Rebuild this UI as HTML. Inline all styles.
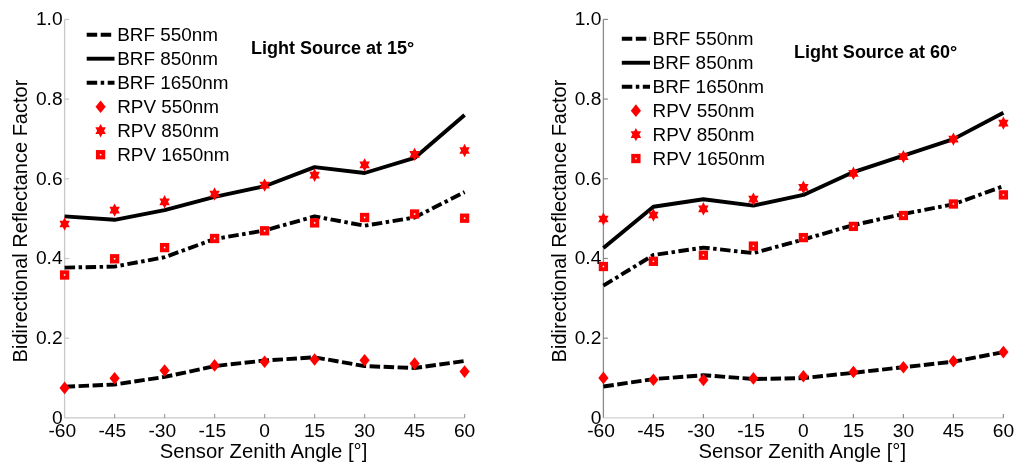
<!DOCTYPE html>
<html><head><meta charset="utf-8"><title>BRF plots</title>
<style>
html,body{margin:0;padding:0;background:#fff;width:1024px;height:475px;overflow:hidden}
svg{display:block}
text{font-family:"Liberation Sans",sans-serif;fill:#000}
.tk{font-size:19.2px}
.lab{font-size:20.3px}
.ylab{font-size:20.05px}
.lg{font-size:18.9px}
.tt{font-size:18px;font-weight:bold}
</style></head><body>
<svg width="1024" height="475" viewBox="0 0 1024 475">
<rect width="1024" height="475" fill="#fff"/>
<line x1="64.6" y1="19.4" x2="64.6" y2="417.9" stroke="#c8c8c8" stroke-width="1.3"/>
<line x1="64.6" y1="417.9" x2="464.6" y2="417.9" stroke="#c8c8c8" stroke-width="1.3"/>
<text x="62.60" y="423.80" text-anchor="end" class="tk">0</text>
<line x1="64.6" y1="338.20" x2="69.1" y2="338.20" stroke="#c8c8c8" stroke-width="1.2"/>
<text x="62.60" y="344.10" text-anchor="end" class="tk">0.2</text>
<line x1="64.6" y1="258.50" x2="69.1" y2="258.50" stroke="#c8c8c8" stroke-width="1.2"/>
<text x="62.60" y="264.40" text-anchor="end" class="tk">0.4</text>
<line x1="64.6" y1="178.80" x2="69.1" y2="178.80" stroke="#c8c8c8" stroke-width="1.2"/>
<text x="62.60" y="184.70" text-anchor="end" class="tk">0.6</text>
<line x1="64.6" y1="99.10" x2="69.1" y2="99.10" stroke="#c8c8c8" stroke-width="1.2"/>
<text x="62.60" y="105.00" text-anchor="end" class="tk">0.8</text>
<line x1="64.6" y1="19.40" x2="69.1" y2="19.40" stroke="#c8c8c8" stroke-width="1.2"/>
<text x="62.60" y="25.30" text-anchor="end" class="tk">1.0</text>
<text x="62.30" y="436.6" text-anchor="middle" class="tk">-60</text>
<line x1="114.60" y1="413.9" x2="114.60" y2="417.9" stroke="#a0a0a0" stroke-width="1.2"/>
<text x="112.30" y="436.6" text-anchor="middle" class="tk">-45</text>
<line x1="164.60" y1="413.9" x2="164.60" y2="417.9" stroke="#a0a0a0" stroke-width="1.2"/>
<text x="162.30" y="436.6" text-anchor="middle" class="tk">-30</text>
<line x1="214.60" y1="413.9" x2="214.60" y2="417.9" stroke="#a0a0a0" stroke-width="1.2"/>
<text x="212.30" y="436.6" text-anchor="middle" class="tk">-15</text>
<line x1="264.60" y1="413.9" x2="264.60" y2="417.9" stroke="#a0a0a0" stroke-width="1.2"/>
<text x="264.60" y="436.6" text-anchor="middle" class="tk">0</text>
<line x1="314.60" y1="413.9" x2="314.60" y2="417.9" stroke="#a0a0a0" stroke-width="1.2"/>
<text x="314.60" y="436.6" text-anchor="middle" class="tk">15</text>
<line x1="364.60" y1="413.9" x2="364.60" y2="417.9" stroke="#a0a0a0" stroke-width="1.2"/>
<text x="364.60" y="436.6" text-anchor="middle" class="tk">30</text>
<line x1="414.60" y1="413.9" x2="414.60" y2="417.9" stroke="#a0a0a0" stroke-width="1.2"/>
<text x="414.60" y="436.6" text-anchor="middle" class="tk">45</text>
<line x1="464.60" y1="413.9" x2="464.60" y2="417.9" stroke="#a0a0a0" stroke-width="1.2"/>
<text x="464.60" y="436.6" text-anchor="middle" class="tk">60</text>
<text x="263.50" y="457.8" text-anchor="middle" class="lab">Sensor Zenith Angle [°]</text>
<text transform="translate(27.20,221.0) rotate(-90)" text-anchor="middle" class="ylab">Bidirectional Reflectance Factor</text>
<polyline points="64.60,386.80 114.60,384.50 164.60,376.90 214.60,366.10 264.60,360.50 314.60,357.30 364.60,366.10 414.60,368.00 464.60,361.00" fill="none" stroke="#000" stroke-width="3.9" stroke-linejoin="round" stroke-dasharray="10.5,3.5"/>
<polyline points="64.60,216.40 114.60,219.80 164.60,210.10 214.60,196.80 264.60,186.20 314.60,167.10 364.60,173.00 414.60,157.90 464.60,115.10" fill="none" stroke="#000" stroke-width="3.9" stroke-linejoin="round"/>
<polyline points="64.60,267.60 114.60,266.60 164.60,257.20 214.60,239.00 264.60,230.50 314.60,216.40 364.60,225.70 414.60,217.50 464.60,192.10" fill="none" stroke="#000" stroke-width="3.9" stroke-linejoin="round" stroke-dasharray="10.5,3.5,3.5,3.5"/>
<path d="M64.60 381.60L69.70 387.90L64.60 394.20L59.50 387.90Z" fill="#ff0000"/>
<path d="M114.60 372.00L119.70 378.30L114.60 384.60L109.50 378.30Z" fill="#ff0000"/>
<path d="M164.60 364.20L169.70 370.50L164.60 376.80L159.50 370.50Z" fill="#ff0000"/>
<path d="M214.60 359.10L219.70 365.40L214.60 371.70L209.50 365.40Z" fill="#ff0000"/>
<path d="M264.60 355.40L269.70 361.70L264.60 368.00L259.50 361.70Z" fill="#ff0000"/>
<path d="M314.60 353.20L319.70 359.50L314.60 365.80L309.50 359.50Z" fill="#ff0000"/>
<path d="M364.60 353.90L369.70 360.20L364.60 366.50L359.50 360.20Z" fill="#ff0000"/>
<path d="M414.60 357.30L419.70 363.60L414.60 369.90L409.50 363.60Z" fill="#ff0000"/>
<path d="M464.60 365.30L469.70 371.60L464.60 377.90L459.50 371.60Z" fill="#ff0000"/>
<polygon points="64.60,217.30 66.34,220.65 69.82,220.65 68.08,224.00 69.82,227.35 66.34,227.35 64.60,230.70 62.86,227.35 59.38,227.35 61.12,224.00 59.38,220.65 62.86,220.65" fill="#ff0000"/>
<polygon points="114.60,203.40 116.34,206.75 119.82,206.75 118.08,210.10 119.82,213.45 116.34,213.45 114.60,216.80 112.86,213.45 109.38,213.45 111.12,210.10 109.38,206.75 112.86,206.75" fill="#ff0000"/>
<polygon points="164.60,195.10 166.34,198.45 169.82,198.45 168.08,201.80 169.82,205.15 166.34,205.15 164.60,208.50 162.86,205.15 159.38,205.15 161.12,201.80 159.38,198.45 162.86,198.45" fill="#ff0000"/>
<polygon points="214.60,187.30 216.34,190.65 219.82,190.65 218.08,194.00 219.82,197.35 216.34,197.35 214.60,200.70 212.86,197.35 209.38,197.35 211.12,194.00 209.38,190.65 212.86,190.65" fill="#ff0000"/>
<polygon points="264.60,178.40 266.34,181.75 269.82,181.75 268.08,185.10 269.82,188.45 266.34,188.45 264.60,191.80 262.86,188.45 259.38,188.45 261.12,185.10 259.38,181.75 262.86,181.75" fill="#ff0000"/>
<polygon points="314.60,168.50 316.34,171.85 319.82,171.85 318.08,175.20 319.82,178.55 316.34,178.55 314.60,181.90 312.86,178.55 309.38,178.55 311.12,175.20 309.38,171.85 312.86,171.85" fill="#ff0000"/>
<polygon points="364.60,158.20 366.34,161.55 369.82,161.55 368.08,164.90 369.82,168.25 366.34,168.25 364.60,171.60 362.86,168.25 359.38,168.25 361.12,164.90 359.38,161.55 362.86,161.55" fill="#ff0000"/>
<polygon points="414.60,147.70 416.34,151.05 419.82,151.05 418.08,154.40 419.82,157.75 416.34,157.75 414.60,161.10 412.86,157.75 409.38,157.75 411.12,154.40 409.38,151.05 412.86,151.05" fill="#ff0000"/>
<polygon points="464.60,143.80 466.34,147.15 469.82,147.15 468.08,150.50 469.82,153.85 466.34,153.85 464.60,157.20 462.86,153.85 459.38,153.85 461.12,150.50 459.38,147.15 462.86,147.15" fill="#ff0000"/>
<rect x="59.95" y="270.35" width="9.3" height="9.3" fill="#ff0000"/><rect x="63.85" y="274.25" width="1.5" height="1.5" fill="#fff"/>
<rect x="109.95" y="254.15" width="9.3" height="9.3" fill="#ff0000"/><rect x="113.85" y="258.05" width="1.5" height="1.5" fill="#fff"/>
<rect x="159.95" y="242.95" width="9.3" height="9.3" fill="#ff0000"/><rect x="163.85" y="246.85" width="1.5" height="1.5" fill="#fff"/>
<rect x="209.95" y="233.85" width="9.3" height="9.3" fill="#ff0000"/><rect x="213.85" y="237.75" width="1.5" height="1.5" fill="#fff"/>
<rect x="259.95" y="226.15" width="9.3" height="9.3" fill="#ff0000"/><rect x="263.85" y="230.05" width="1.5" height="1.5" fill="#fff"/>
<rect x="309.95" y="218.25" width="9.3" height="9.3" fill="#ff0000"/><rect x="313.85" y="222.15" width="1.5" height="1.5" fill="#fff"/>
<rect x="359.95" y="212.85" width="9.3" height="9.3" fill="#ff0000"/><rect x="363.85" y="216.75" width="1.5" height="1.5" fill="#fff"/>
<rect x="409.95" y="209.35" width="9.3" height="9.3" fill="#ff0000"/><rect x="413.85" y="213.25" width="1.5" height="1.5" fill="#fff"/>
<rect x="459.95" y="213.55" width="9.3" height="9.3" fill="#ff0000"/><rect x="463.85" y="217.45" width="1.5" height="1.5" fill="#fff"/>
<line x1="86.7" y1="34.70" x2="114.5" y2="34.70" stroke="#000" stroke-width="3.9" stroke-dasharray="10.5,3.5"/>
<line x1="86.7" y1="58.70" x2="114.5" y2="58.70" stroke="#000" stroke-width="3.9"/>
<line x1="86.7" y1="82.70" x2="114.5" y2="82.70" stroke="#000" stroke-width="3.9" stroke-dasharray="10.5,3.5,3.5,3.5"/>
<path d="M100.60 100.40L105.70 106.70L100.60 113.00L95.50 106.70Z" fill="#ff0000"/>
<polygon points="100.60,124.00 102.34,127.35 105.82,127.35 104.08,130.70 105.82,134.05 102.34,134.05 100.60,137.40 98.86,134.05 95.38,134.05 97.12,130.70 95.38,127.35 98.86,127.35" fill="#ff0000"/>
<rect x="95.95" y="150.05" width="9.3" height="9.3" fill="#ff0000"/><rect x="99.85" y="153.95" width="1.5" height="1.5" fill="#fff"/>
<text x="117.2" y="40.90" class="lg">BRF 550nm</text>
<text x="117.2" y="64.90" class="lg">BRF 850nm</text>
<text x="117.2" y="88.90" class="lg">BRF 1650nm</text>
<text x="117.2" y="112.90" class="lg">RPV 550nm</text>
<text x="117.2" y="136.90" class="lg">RPV 850nm</text>
<text x="117.2" y="160.90" class="lg">RPV 1650nm</text>
<text x="251.00" y="53.7" class="tt">Light Source at 15°</text>
<line x1="603.4" y1="19.4" x2="603.4" y2="417.9" stroke="#8a8a8a" stroke-width="1.3"/>
<line x1="603.4" y1="417.9" x2="1003.4" y2="417.9" stroke="#d0d0d0" stroke-width="1.3"/>
<text x="601.40" y="423.80" text-anchor="end" class="tk">0</text>
<line x1="603.4" y1="338.20" x2="607.9" y2="338.20" stroke="#8a8a8a" stroke-width="1.2"/>
<text x="601.40" y="344.10" text-anchor="end" class="tk">0.2</text>
<line x1="603.4" y1="258.50" x2="607.9" y2="258.50" stroke="#8a8a8a" stroke-width="1.2"/>
<text x="601.40" y="264.40" text-anchor="end" class="tk">0.4</text>
<line x1="603.4" y1="178.80" x2="607.9" y2="178.80" stroke="#8a8a8a" stroke-width="1.2"/>
<text x="601.40" y="184.70" text-anchor="end" class="tk">0.6</text>
<line x1="603.4" y1="99.10" x2="607.9" y2="99.10" stroke="#8a8a8a" stroke-width="1.2"/>
<text x="601.40" y="105.00" text-anchor="end" class="tk">0.8</text>
<line x1="603.4" y1="19.40" x2="607.9" y2="19.40" stroke="#8a8a8a" stroke-width="1.2"/>
<text x="601.40" y="25.30" text-anchor="end" class="tk">1.0</text>
<text x="601.10" y="436.6" text-anchor="middle" class="tk">-60</text>
<line x1="653.40" y1="413.9" x2="653.40" y2="417.9" stroke="#8a8a8a" stroke-width="1.2"/>
<text x="651.10" y="436.6" text-anchor="middle" class="tk">-45</text>
<line x1="703.40" y1="413.9" x2="703.40" y2="417.9" stroke="#8a8a8a" stroke-width="1.2"/>
<text x="701.10" y="436.6" text-anchor="middle" class="tk">-30</text>
<line x1="753.40" y1="413.9" x2="753.40" y2="417.9" stroke="#8a8a8a" stroke-width="1.2"/>
<text x="751.10" y="436.6" text-anchor="middle" class="tk">-15</text>
<line x1="803.40" y1="413.9" x2="803.40" y2="417.9" stroke="#8a8a8a" stroke-width="1.2"/>
<text x="803.40" y="436.6" text-anchor="middle" class="tk">0</text>
<line x1="853.40" y1="413.9" x2="853.40" y2="417.9" stroke="#8a8a8a" stroke-width="1.2"/>
<text x="853.40" y="436.6" text-anchor="middle" class="tk">15</text>
<line x1="903.40" y1="413.9" x2="903.40" y2="417.9" stroke="#8a8a8a" stroke-width="1.2"/>
<text x="903.40" y="436.6" text-anchor="middle" class="tk">30</text>
<line x1="953.40" y1="413.9" x2="953.40" y2="417.9" stroke="#8a8a8a" stroke-width="1.2"/>
<text x="953.40" y="436.6" text-anchor="middle" class="tk">45</text>
<line x1="1003.40" y1="413.9" x2="1003.40" y2="417.9" stroke="#8a8a8a" stroke-width="1.2"/>
<text x="1003.40" y="436.6" text-anchor="middle" class="tk">60</text>
<text x="802.30" y="457.8" text-anchor="middle" class="lab">Sensor Zenith Angle [°]</text>
<text transform="translate(566.00,221.0) rotate(-90)" text-anchor="middle" class="ylab">Bidirectional Reflectance Factor</text>
<polyline points="603.40,386.50 653.40,379.10 703.40,375.20 753.40,379.00 803.40,378.10 853.40,372.80 903.40,367.20 953.40,361.70 1003.40,352.10" fill="none" stroke="#000" stroke-width="3.9" stroke-linejoin="round" stroke-dasharray="10.5,3.5"/>
<polyline points="603.40,248.00 653.40,206.80 703.40,199.20 753.40,205.60 803.40,194.90 853.40,172.10 903.40,155.70 953.40,139.10 1003.40,112.70" fill="none" stroke="#000" stroke-width="3.9" stroke-linejoin="round"/>
<polyline points="603.40,285.70 653.40,255.00 703.40,247.60 753.40,253.10 803.40,239.50 853.40,225.10 903.40,214.00 953.40,204.30 1003.40,186.20" fill="none" stroke="#000" stroke-width="3.9" stroke-linejoin="round" stroke-dasharray="10.5,3.5,3.5,3.5"/>
<path d="M603.40 371.60L608.50 377.90L603.40 384.20L598.30 377.90Z" fill="#ff0000"/>
<path d="M653.40 373.50L658.50 379.80L653.40 386.10L648.30 379.80Z" fill="#ff0000"/>
<path d="M703.40 373.70L708.50 380.00L703.40 386.30L698.30 380.00Z" fill="#ff0000"/>
<path d="M753.40 372.10L758.50 378.40L753.40 384.70L748.30 378.40Z" fill="#ff0000"/>
<path d="M803.40 370.00L808.50 376.30L803.40 382.60L798.30 376.30Z" fill="#ff0000"/>
<path d="M853.40 365.70L858.50 372.00L853.40 378.30L848.30 372.00Z" fill="#ff0000"/>
<path d="M903.40 360.90L908.50 367.20L903.40 373.50L898.30 367.20Z" fill="#ff0000"/>
<path d="M953.40 355.00L958.50 361.30L953.40 367.60L948.30 361.30Z" fill="#ff0000"/>
<path d="M1003.40 345.80L1008.50 352.10L1003.40 358.40L998.30 352.10Z" fill="#ff0000"/>
<polygon points="603.40,212.30 605.14,215.65 608.62,215.65 606.88,219.00 608.62,222.35 605.14,222.35 603.40,225.70 601.66,222.35 598.18,222.35 599.92,219.00 598.18,215.65 601.66,215.65" fill="#ff0000"/>
<polygon points="653.40,208.30 655.14,211.65 658.62,211.65 656.88,215.00 658.62,218.35 655.14,218.35 653.40,221.70 651.66,218.35 648.18,218.35 649.92,215.00 648.18,211.65 651.66,211.65" fill="#ff0000"/>
<polygon points="703.40,202.10 705.14,205.45 708.62,205.45 706.88,208.80 708.62,212.15 705.14,212.15 703.40,215.50 701.66,212.15 698.18,212.15 699.92,208.80 698.18,205.45 701.66,205.45" fill="#ff0000"/>
<polygon points="753.40,192.40 755.14,195.75 758.62,195.75 756.88,199.10 758.62,202.45 755.14,202.45 753.40,205.80 751.66,202.45 748.18,202.45 749.92,199.10 748.18,195.75 751.66,195.75" fill="#ff0000"/>
<polygon points="803.40,180.60 805.14,183.95 808.62,183.95 806.88,187.30 808.62,190.65 805.14,190.65 803.40,194.00 801.66,190.65 798.18,190.65 799.92,187.30 798.18,183.95 801.66,183.95" fill="#ff0000"/>
<polygon points="853.40,166.60 855.14,169.95 858.62,169.95 856.88,173.30 858.62,176.65 855.14,176.65 853.40,180.00 851.66,176.65 848.18,176.65 849.92,173.30 848.18,169.95 851.66,169.95" fill="#ff0000"/>
<polygon points="903.40,149.90 905.14,153.25 908.62,153.25 906.88,156.60 908.62,159.95 905.14,159.95 903.40,163.30 901.66,159.95 898.18,159.95 899.92,156.60 898.18,153.25 901.66,153.25" fill="#ff0000"/>
<polygon points="953.40,132.40 955.14,135.75 958.62,135.75 956.88,139.10 958.62,142.45 955.14,142.45 953.40,145.80 951.66,142.45 948.18,142.45 949.92,139.10 948.18,135.75 951.66,135.75" fill="#ff0000"/>
<polygon points="1003.40,116.40 1005.14,119.75 1008.62,119.75 1006.88,123.10 1008.62,126.45 1005.14,126.45 1003.40,129.80 1001.66,126.45 998.18,126.45 999.92,123.10 998.18,119.75 1001.66,119.75" fill="#ff0000"/>
<rect x="598.75" y="261.85" width="9.3" height="9.3" fill="#ff0000"/><rect x="602.65" y="265.75" width="1.5" height="1.5" fill="#fff"/>
<rect x="648.75" y="256.65" width="9.3" height="9.3" fill="#ff0000"/><rect x="652.65" y="260.55" width="1.5" height="1.5" fill="#fff"/>
<rect x="698.75" y="250.55" width="9.3" height="9.3" fill="#ff0000"/><rect x="702.65" y="254.45" width="1.5" height="1.5" fill="#fff"/>
<rect x="748.75" y="241.45" width="9.3" height="9.3" fill="#ff0000"/><rect x="752.65" y="245.35" width="1.5" height="1.5" fill="#fff"/>
<rect x="798.75" y="232.95" width="9.3" height="9.3" fill="#ff0000"/><rect x="802.65" y="236.85" width="1.5" height="1.5" fill="#fff"/>
<rect x="848.75" y="221.75" width="9.3" height="9.3" fill="#ff0000"/><rect x="852.65" y="225.65" width="1.5" height="1.5" fill="#fff"/>
<rect x="898.75" y="210.85" width="9.3" height="9.3" fill="#ff0000"/><rect x="902.65" y="214.75" width="1.5" height="1.5" fill="#fff"/>
<rect x="948.75" y="199.35" width="9.3" height="9.3" fill="#ff0000"/><rect x="952.65" y="203.25" width="1.5" height="1.5" fill="#fff"/>
<rect x="998.75" y="190.25" width="9.3" height="9.3" fill="#ff0000"/><rect x="1002.65" y="194.15" width="1.5" height="1.5" fill="#fff"/>
<line x1="621.8" y1="38.80" x2="650.0" y2="38.80" stroke="#000" stroke-width="3.9" stroke-dasharray="10.5,3.5"/>
<line x1="621.8" y1="62.75" x2="650.0" y2="62.75" stroke="#000" stroke-width="3.9"/>
<line x1="621.8" y1="86.70" x2="650.0" y2="86.70" stroke="#000" stroke-width="3.9" stroke-dasharray="10.5,3.5,3.5,3.5"/>
<path d="M635.90 104.35L641.00 110.65L635.90 116.95L630.80 110.65Z" fill="#ff0000"/>
<polygon points="635.90,127.90 637.64,131.25 641.12,131.25 639.38,134.60 641.12,137.95 637.64,137.95 635.90,141.30 634.16,137.95 630.68,137.95 632.42,134.60 630.68,131.25 634.16,131.25" fill="#ff0000"/>
<rect x="631.25" y="153.90" width="9.3" height="9.3" fill="#ff0000"/><rect x="635.15" y="157.80" width="1.5" height="1.5" fill="#fff"/>
<text x="652.6" y="45.00" class="lg">BRF 550nm</text>
<text x="652.6" y="68.95" class="lg">BRF 850nm</text>
<text x="652.6" y="92.90" class="lg">BRF 1650nm</text>
<text x="652.6" y="116.85" class="lg">RPV 550nm</text>
<text x="652.6" y="140.80" class="lg">RPV 850nm</text>
<text x="652.6" y="164.75" class="lg">RPV 1650nm</text>
<text x="793.90" y="58.2" class="tt">Light Source at 60°</text>
</svg>
</body></html>
